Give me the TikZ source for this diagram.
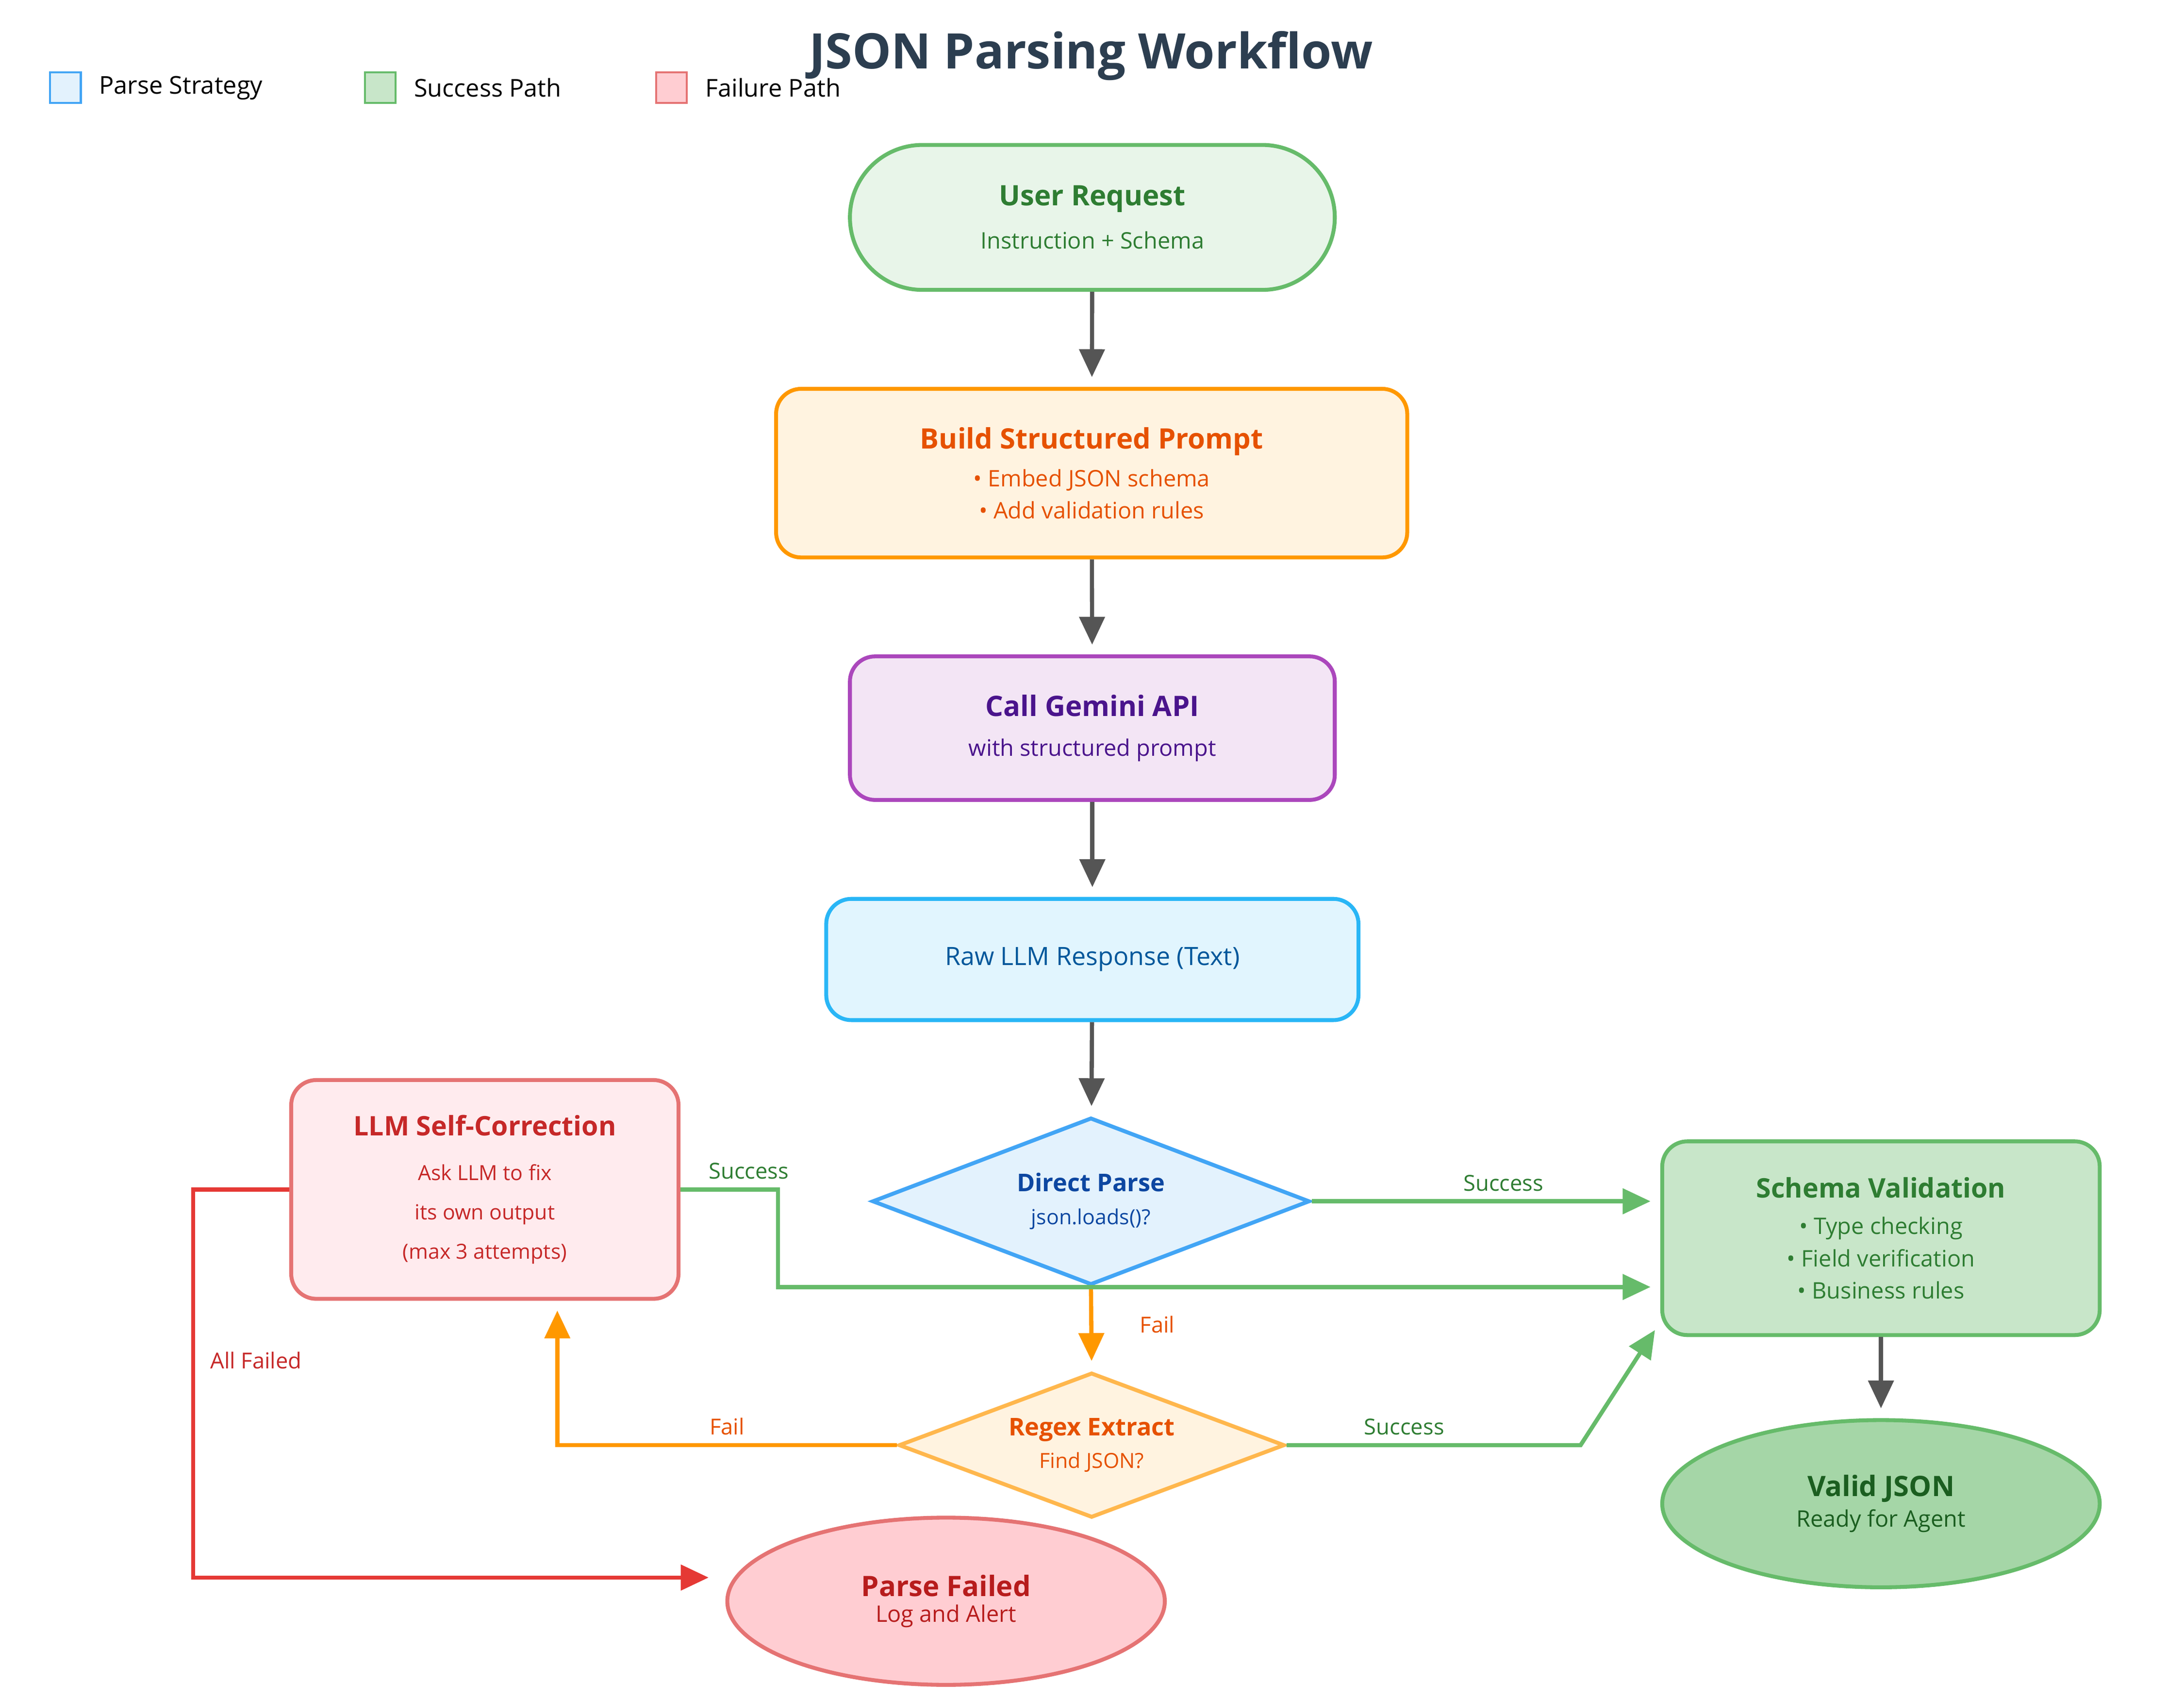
\documentclass[tikz,border=0pt]{standalone}
\usepackage{fontspec}
\setmainfont{Open Sans}
\usetikzlibrary{arrows.meta,shapes.geometric}
\definecolor{titlecol}{HTML}{2C3E50}
\definecolor{arrgray}{HTML}{555555}
\definecolor{grnS}{HTML}{66BB6A}\definecolor{grnF}{HTML}{E8F5E9}\definecolor{grnT}{HTML}{2E7D32}
\definecolor{orgS}{HTML}{FF9800}\definecolor{orgF}{HTML}{FFF3E0}\definecolor{orgT}{HTML}{E65100}
\definecolor{purS}{HTML}{AB47BC}\definecolor{purF}{HTML}{F3E5F5}\definecolor{purT}{HTML}{4A148C}
\definecolor{cyaS}{HTML}{29B6F6}\definecolor{cyaF}{HTML}{E1F5FE}\definecolor{cyaT}{HTML}{01579B}
\definecolor{bluS}{HTML}{42A5F5}\definecolor{bluF}{HTML}{E3F2FD}\definecolor{bluT}{HTML}{0D47A1}
\definecolor{yelS}{HTML}{FFB74D}
\definecolor{redS}{HTML}{E57373}\definecolor{redF}{HTML}{FFEBEE}\definecolor{redT}{HTML}{C62828}
\definecolor{redA}{HTML}{E53935}\definecolor{redP}{HTML}{FFCDD2}\definecolor{redD}{HTML}{B71C1C}
\definecolor{sucF}{HTML}{C8E6C9}\definecolor{valF}{HTML}{A5D6A7}\definecolor{valT}{HTML}{1B5E20}
\newcommand{\hdf}{\fontsize{11.5}{14}\selectfont\bfseries}
\newcommand{\subf}{\fontsize{9.3}{13}\selectfont}
\tikzset{
  box/.style={draw, line width=1.6pt, rounded corners=0.36cm, align=center, inner sep=0pt},
  arr/.style={line width=1.7pt, arrgray, -{Triangle[length=0.4cm,width=0.36cm]}, shorten >=0.14cm},
  garr/.style={arr, grnS},
  lbl/.style={font=\fontsize{9}{11}\selectfont},
}
\begin{document}
\begin{tikzpicture}
\useasboundingbox (0,0) rectangle (31.35,-24.38);
% title and legend
\node[font=\fontsize{20}{24}\selectfont\bfseries, text=titlecol] (title) at (15.66,-0.8) {JSON Parsing Workflow};
\node[draw=bluS, fill=bluF, line width=0.8pt, minimum size=0.44cm, inner sep=0pt] (lg1) at (0.94,-1.26) {};
\node[lbl, anchor=west, font=\fontsize{10}{12}\selectfont] at (1.3,-1.26) {Parse Strategy};
\node[draw=grnS, fill=sucF, line width=0.8pt, minimum size=0.44cm, inner sep=0pt] (lg2) at (5.46,-1.26) {};
\node[lbl, anchor=west, font=\fontsize{10}{12}\selectfont] at (5.82,-1.26) {Success Path};
\node[draw=redS, fill=redP, line width=0.8pt, minimum size=0.44cm, inner sep=0pt] (lg3) at (9.64,-1.26) {};
\node[lbl, anchor=west, font=\fontsize{10}{12}\selectfont] at (10.0,-1.26) {Failure Path};

% main nodes
\node[box, draw=grnS, fill=grnF, text=grnT, minimum width=6.96cm, minimum height=2.08cm, rounded corners=1.04cm] (ur) at (15.68,-3.12)
  {{\hdf User Request}\\[0.2cm]{\subf Instruction + Schema}};
\node[box, draw=orgS, fill=orgF, text=orgT, minimum width=9.06cm, minimum height=2.42cm] (bp) at (15.67,-6.79)
  {{\hdf Build Structured Prompt}\\[0.12cm]{\subf • Embed JSON schema}\\[0.04cm]{\subf • Add validation rules}};
\node[box, draw=purS, fill=purF, text=purT, minimum width=6.96cm, minimum height=2.06cm] (cg) at (15.68,-10.45)
  {{\hdf Call Gemini API}\\[0.15cm]{\subf with structured prompt}};
\node[box, draw=cyaS, fill=cyaF, text=cyaT, minimum width=7.64cm, minimum height=1.74cm, font=\fontsize{10.3}{13}\selectfont] (rr) at (15.68,-13.77)
  {Raw LLM Response (Text)};
\node[diamond, draw=bluS, fill=bluF, text=bluT, line width=1.6pt, minimum width=6.28cm, minimum height=2.4cm, aspect=2.6, inner sep=0pt, align=center] (dp) at (15.66,-17.24)
  {{\fontsize{10}{12}\selectfont\bfseries Direct Parse}\\[0.05cm]{\fontsize{8.5}{10}\selectfont json.loads()?}};
\node[diamond, draw=yelS, fill=orgF, text=orgT, line width=1.6pt, minimum width=5.54cm, minimum height=2.08cm, aspect=2.66, inner sep=0pt, align=center] (re) at (15.67,-20.74)
  {{\fontsize{10}{12}\selectfont\bfseries Regex Extract}\\[0.05cm]{\fontsize{8.5}{10}\selectfont Find JSON?}};
\node[box, draw=redS, fill=redF, text=redT, minimum width=5.56cm, minimum height=3.14cm] (sc) at (6.96,-17.07)
  {{\fontsize{11}{13}\selectfont\bfseries LLM Self-Correction}\\[0.22cm]{\fontsize{8.5}{10}\selectfont Ask LLM to fix}\\[0.14cm]{\fontsize{8.5}{10}\selectfont its own output}\\[0.14cm]{\fontsize{8.5}{10}\selectfont (max 3 attempts)}};
\node[box, draw=grnS, fill=sucF, text=grnT, minimum width=6.28cm, minimum height=2.78cm] (sv) at (27.0,-17.77)
  {{\fontsize{11}{13}\selectfont\bfseries Schema Validation}\\[0.1cm]{\subf • Type checking}\\[0.04cm]{\subf • Field verification}\\[0.04cm]{\subf • Business rules}};
\node[ellipse, draw=grnS, fill=valF, text=valT, line width=1.6pt, minimum width=6.28cm, minimum height=2.4cm, inner sep=0pt, align=center] (vj) at (27.0,-21.58)
  {{\hdf Valid JSON}\\[0.02cm]{\subf Ready for Agent}};
\node[ellipse, draw=redS, fill=redP, text=redD, line width=1.6pt, minimum width=6.28cm, minimum height=2.4cm, inner sep=0pt, align=center] (pf) at (13.58,-22.98)
  {{\hdf Parse Failed}\\[-0.05cm]{\subf Log and Alert}};

% connectors
\draw[arr] (ur) -- (bp);
\draw[arr] (bp) -- (cg);
\draw[arr] (cg) -- (rr);
\draw[arr] (rr) -- (dp);
\draw[arr] (sv) -- (vj);
\draw[garr] (dp.east) -- node[lbl, text=grnT, above, pos=0.55] {Success} (dp.east -| sv.west);
\draw[arr, orgS] (dp.south) -- node[lbl, text=orgT, right, xshift=0.55cm, pos=0.45] {Fail} (re.north);
\draw[arr, orgS] (re.west) -| node[lbl, text=orgT, above, pos=0.25] {Fail} ([xshift=1.04cm]sc.south);
\draw[garr] (re.east) -- node[lbl, text=grnT, above, pos=0.4] {Success} ++(4.22,0) -- ([yshift=-1.2cm]sv.west);
\draw[garr] (sc.east) -- node[lbl, text=grnT, above, pos=0.7] {Success} ++(1.4,0) |- ([yshift=-0.7cm]sv.west);
\draw[arr, redA] (sc.west) -- ++(-1.38,0) |- node[lbl, text=redT, pos=0.22, right, xshift=0.1cm] {All Failed} ([yshift=0.34cm,xshift=-0.1cm]pf.west);
\end{tikzpicture}
\end{document}
